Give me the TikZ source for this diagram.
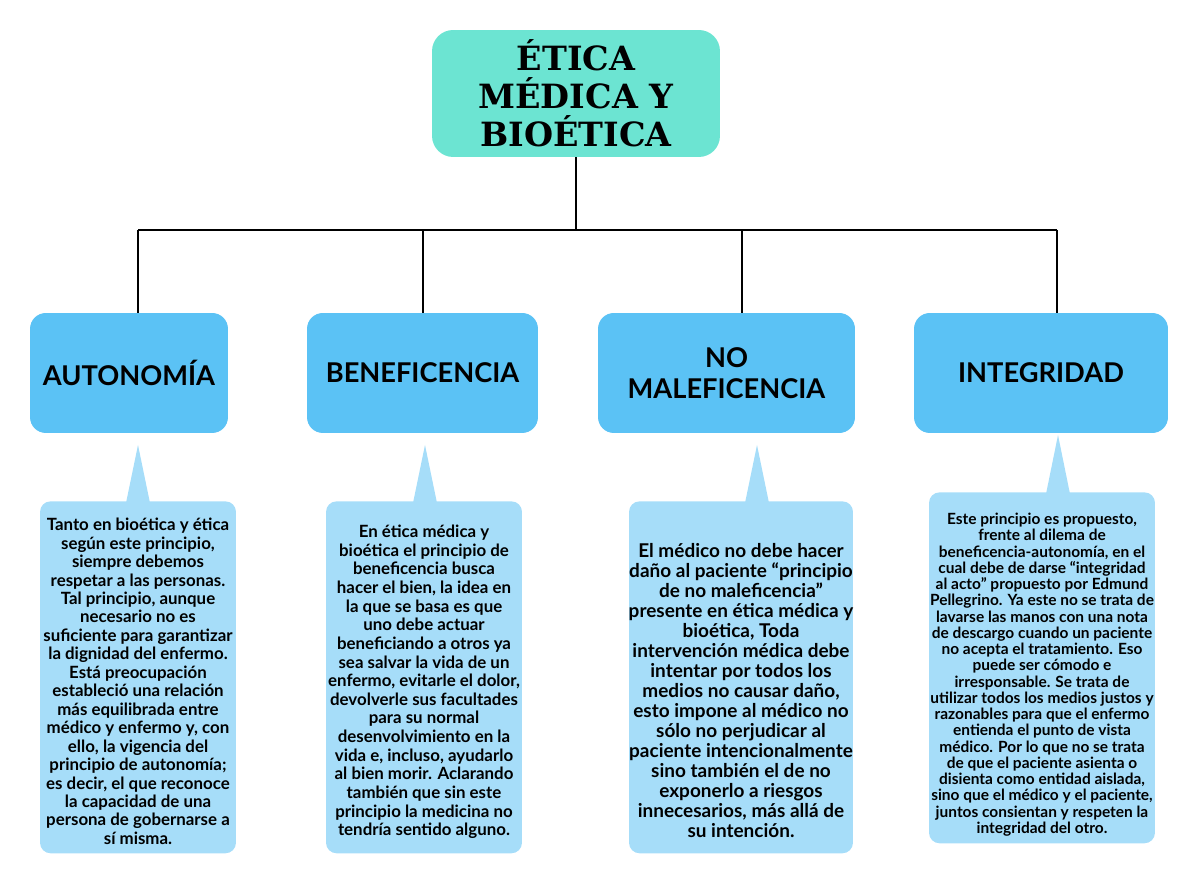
\documentclass[tikz,border=0pt]{standalone}
\usepackage{fontspec}
\setmainfont{Lato}
\newfontfamily\slabfont{DejaVu Serif}
\usetikzlibrary{positioning}
\definecolor{tealbox}{HTML}{6CE4D2}
\definecolor{bluebox}{HTML}{5BC2F5}
\definecolor{lightbox}{HTML}{A6DDF9}
\tikzset{
	topic/.style={rectangle,rounded corners=9pt,fill=bluebox,align=center,font=\fontsize{15.5}{17.5}\selectfont\bfseries,inner sep=0},
	note/.style={rectangle,rounded corners=6pt,fill=lightbox,align=center,anchor=north,inner sep=0},
	link/.style={line width=1.6pt,black}
}
\begin{document}
\begin{tikzpicture}[x=0.02cm,y=-0.02cm]
	\useasboundingbox (0,0) rectangle (1200,884);
	% title
	\node (root) [rectangle,rounded corners=12pt,fill=tealbox,minimum width=5.76cm,minimum height=2.54cm,align=center,font=\slabfont\fontsize{19}{21.5}\selectfont\bfseries] at (576,93.5) {ÉTICA\\MÉDICA Y\\BIOÉTICA};
	% four principles
	\node (auto) [topic,minimum width=3.96cm,minimum height=2.4cm] at (129,373) {AUTONOMÍA};
	\node (bene) [topic,minimum width=4.62cm,minimum height=2.4cm] at (422.5,373) {BENEFICENCIA};
	\node (nomal) [topic,minimum width=5.14cm,minimum height=2.4cm] at (726.5,373) {NO\\MALEFICENCIA};
	\node (inte) [topic,minimum width=5.08cm,minimum height=2.4cm] at (1041,373) {INTEGRIDAD};
	% connectors
	\coordinate (hub) at (576,230);
	\draw [link] (root.south) -- (hub);
	\draw [link] (138,230) -- (1057,230);
	\draw [link] (138,230) -- (auto.north -| 138,0);
	\draw [link] (423,230) -- (bene.north -| 423,0);
	\draw [link] (742,230) -- (nomal.north -| 742,0);
	\draw [link] (1057,230) -- (inte.north -| 1057,0);
	% pointers
	\fill [lightbox] (138,445) -- (150,503) -- (126,503) -- cycle;
	\fill [lightbox] (425,445) -- (437,503) -- (413,503) -- cycle;
	\fill [lightbox] (757,445) -- (769,503) -- (745,503) -- cycle;
	\fill [lightbox] (1058,435) -- (1070,494) -- (1046,494) -- cycle;
	% notes
	\node (n1) [note,minimum width=3.92cm,minimum height=7.04cm] at (138,501) {};
	\node [anchor=north,align=center,font=\fontsize{9.6}{10.5}\selectfont\bfseries] at (138,512) {Tanto en bioética y ética\\según este principio,\\siempre debemos\\respetar a las personas.\\Tal principio, aunque\\necesario no es\\suficiente para garantizar\\la dignidad del enfermo.\\Está preocupación\\estableció una relación\\más equilibrada entre\\médico y enfermo y, con\\ello, la vigencia del\\principio de autonomía;\\es decir, el que reconoce\\la capacidad de una\\persona de gobernarse a\\sí misma.};
	\node (n2) [note,minimum width=3.92cm,minimum height=7.04cm] at (424,501) {};
	\node [anchor=north,align=center,font=\fontsize{9.6}{10.6}\selectfont\bfseries] at (424,519) {En ética médica y\\bioética el principio de\\beneficencia busca\\hacer el bien,  la idea en\\la que se basa es que\\uno debe actuar\\beneficiando a otros ya\\sea salvar la vida de un\\enfermo, evitarle el dolor,\\devolverle sus facultades\\para su normal\\desenvolvimiento en la\\vida e, incluso, ayudarlo\\al bien morir. Aclarando\\también que sin este\\principio la medicina no\\tendría sentido alguno.};
	\node (n3) [note,minimum width=4.48cm,minimum height=7.04cm] at (741,501) {};
	\node [anchor=north,align=center,font=\fontsize{10.8}{11.4}\selectfont\bfseries] at (741,537) {El médico no debe hacer\\daño al paciente “principio\\de no maleficencia”\\presente en ética médica y\\bioética, Toda\\intervención médica debe\\intentar por todos los\\medios no causar daño,\\esto impone al médico no\\sólo no perjudicar al\\paciente intencionalmente\\sino también el de no\\exponerlo a riesgos\\innecesarios, más allá de\\su intención.};
	\node (n4) [note,minimum width=4.52cm,minimum height=7.02cm] at (1042,492) {};
	\node [anchor=north,align=center,font=\fontsize{8.8}{9.25}\selectfont\bfseries] at (1042,507) {Este principio es propuesto,\\frente al dilema de\\beneficencia-autonomía, en el\\cual debe de darse “integridad\\al acto” propuesto por Edmund\\Pellegrino. Ya este no se trata de\\lavarse las manos con una nota\\de descargo cuando un paciente\\no acepta el tratamiento. Eso\\puede ser cómodo e\\irresponsable. Se trata de\\utilizar todos los medios justos y\\razonables para que el enfermo\\entienda el punto de vista\\médico. Por lo que no se trata\\de que el paciente asienta o\\disienta como entidad aislada,\\sino que el médico y el paciente,\\juntos consientan y respeten la\\integridad del otro.};
\end{tikzpicture}
\end{document}
